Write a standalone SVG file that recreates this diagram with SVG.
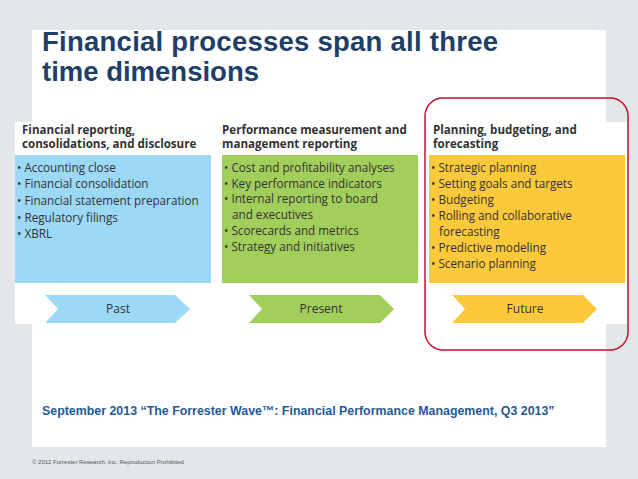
<svg xmlns="http://www.w3.org/2000/svg" width="638" height="479" viewBox="0 0 638 479">
<style>
.h{font-family:"Open Sans","Liberation Sans",sans-serif;font-size:11.6px;font-weight:bold;fill:#333}
.b{font-family:"Open Sans","Liberation Sans",sans-serif;font-size:11.7px;fill:#333}
.a{font-family:"Open Sans","Liberation Sans",sans-serif;font-size:12px;fill:#333;text-anchor:middle}
</style>
<rect width="638" height="479" fill="#e3e7ea"/>
<rect x="32" y="30" width="574" height="417" fill="#fff"/>
<text x="42" y="51" font-family="Liberation Sans,Arial,sans-serif" font-size="27.5" font-weight="bold" fill="#1f3f66" textLength="456">Financial processes span all three</text>
<text x="42" y="81" font-family="Liberation Sans,Arial,sans-serif" font-size="27.5" font-weight="bold" fill="#1f3f66">time dimensions</text>
<rect x="15" y="122" width="612" height="202" fill="#fff"/>
<g id="past">
<text class="h" x="22" y="134">Financial reporting,</text>
<text class="h" x="22" y="148">consolidations, and disclosure</text>
<rect x="15" y="155" width="196" height="128" fill="#9bd9f6"/>
<text class="b" x="17" y="172">• Accounting close</text>
<text class="b" x="17" y="188">• Financial consolidation</text>
<text class="b" x="17" y="205">• Financial statement preparation</text>
<text class="b" x="17" y="222">• Regulatory filings</text>
<text class="b" x="17" y="238">• XBRL</text>
<polygon points="45,295 175,295 190,309 175,323 45,323 58,309" fill="#9bd9f6"/>
<text class="a" x="118" y="313">Past</text>
</g>
<g id="present">
<text class="h" x="222" y="134">Performance measurement and</text>
<text class="h" x="222" y="148">management reporting</text>
<rect x="222" y="155" width="196" height="128" fill="#a2cf5b"/>
<text class="b" x="224" y="172">• Cost and profitability analyses</text>
<text class="b" x="224" y="188">• Key performance indicators</text>
<text class="b" x="224" y="203">• Internal reporting to board</text>
<text class="b" x="232" y="219">and executives</text>
<text class="b" x="224" y="235">• Scorecards and metrics</text>
<text class="b" x="224" y="251">• Strategy and initiatives</text>
<polygon points="249,295 380,295 394,309 380,323 249,323 262,309" fill="#a2cf5b"/>
<text class="a" x="321" y="313">Present</text>
</g>
<g id="future">
<text class="h" x="433" y="134">Planning, budgeting, and</text>
<text class="h" x="433" y="148">forecasting</text>
<rect x="429" y="155" width="196" height="128" fill="#fcc93b"/>
<text class="b" x="431" y="172">• Strategic planning</text>
<text class="b" x="431" y="188">• Setting goals and targets</text>
<text class="b" x="431" y="204">• Budgeting</text>
<text class="b" x="431" y="220">• Rolling and collaborative</text>
<text class="b" x="439" y="236">forecasting</text>
<text class="b" x="431" y="252">• Predictive modeling</text>
<text class="b" x="431" y="268">• Scenario planning</text>
<polygon points="452,295 583,295 597,309 583,323 452,323 465,309" fill="#fcc93b"/>
<text class="a" x="525" y="313">Future</text>
</g>
<rect x="425" y="98" width="203" height="252" rx="18" fill="none" stroke="#c8102e" stroke-width="1.5"/>
<text x="42" y="415" font-family="Liberation Sans,Arial,sans-serif" font-size="12.4" font-weight="bold" fill="#1f5a96">September 2013 “The Forrester Wave™: Financial Performance Management, Q3 2013”</text>
<text x="32" y="464" font-family="Liberation Sans,Arial,sans-serif" font-size="6" fill="#555">© 2012 Forrester Research, Inc. Reproduction Prohibited</text>
</svg>
